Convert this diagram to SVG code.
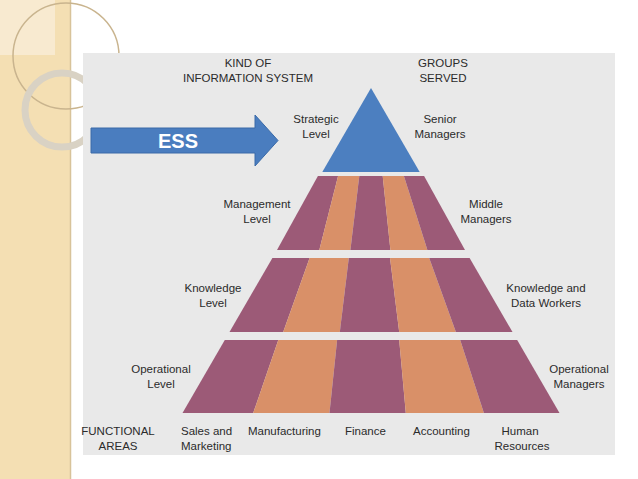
<svg xmlns="http://www.w3.org/2000/svg" width="638" height="479" viewBox="0 0 638 479">
<style>
text{font-family:"Liberation Sans",Arial,sans-serif;font-size:11.5px;fill:#2b2b2b;text-anchor:middle}
.p{fill:#9c5a77}.o{fill:#d99068}
.l{text-anchor:start}
</style>
<rect width="638" height="479" fill="#fff"/>
<g id="decor">
<rect width="70" height="479" fill="#f4dfb3"/>
<rect width="55" height="55" fill="#f8ead0"/>
<line x1="70.5" y1="0" x2="70.5" y2="479" stroke="#d8c39a" stroke-width="1.5"/>
<circle cx="66" cy="56" r="53" fill="none" stroke="#c9b48e" stroke-width="1.5"/>
<circle cx="62" cy="110" r="37" fill="none" stroke="#d9d2c4" stroke-width="7"/>
</g>
<rect x="83" y="53" width="532" height="402" fill="#e9e9e9"/>
<g id="ess">
<polygon points="91,128 255,128 255,115 278,140.5 255,166 255,153 91,153" fill="#4a7dbf" stroke="#3a6aa8"/>
<text x="178" y="148" style="font-size:20px;font-weight:bold;fill:#fff">ESS</text>
</g>
<g id="pyramid">
<polygon id="strategic" points="371,88 419.7,172 322.3,172" fill="#4c7fc0"/>
<g id="management">
<polygon class="p" points="317.9,176 338.1,176 319.3,250 277,250"/>
<polygon class="o" points="338.1,176 359.3,176 350.4,250 319.3,250"/>
<polygon class="p" points="359.3,176 382.7,176 390.4,250 350.4,250"/>
<polygon class="o" points="382.7,176 403.9,176 427.4,250 390.4,250"/>
<polygon class="p" points="403.9,176 424.1,176 465,250 427.4,250"/>
</g>
<g id="knowledge">
<polygon class="p" points="272.4,258 309.6,258 283.2,332 229.5,332"/>
<polygon class="o" points="309.6,258 348.8,258 339.8,332 283.2,332"/>
<polygon class="p" points="348.8,258 390.0,258 399.2,332 339.8,332"/>
<polygon class="o" points="390.0,258 429.2,258 455.9,332 399.2,332"/>
<polygon class="p" points="429.2,258 469.6,258 512.5,332 455.9,332"/>
</g>
<g id="operational">
<polygon class="p" points="224.8,340 278.3,340 253.2,413 182.5,413"/>
<polygon class="o" points="278.3,340 337.1,340 329.5,413 253.2,413"/>
<polygon class="p" points="337.1,340 399.2,340 405.8,413 329.5,413"/>
<polygon class="o" points="399.2,340 460.2,340 483.9,413 405.8,413"/>
<polygon class="p" points="460.2,340 517.2,340 559.5,413 483.9,413"/>
</g>
</g>
<g id="labels">
<text x="248" y="67">KIND OF</text><text x="248" y="82">INFORMATION SYSTEM</text>
<text x="443" y="67">GROUPS</text><text x="443" y="82">SERVED</text>
<text x="316" y="123">Strategic</text><text x="316" y="138">Level</text>
<text x="440" y="123">Senior</text><text x="440" y="138">Managers</text>
<text x="257" y="208">Management</text><text x="257" y="223">Level</text>
<text x="486" y="208">Middle</text><text x="486" y="223">Managers</text>
<text x="213" y="292">Knowledge</text><text x="213" y="307">Level</text>
<text x="546" y="292">Knowledge and</text><text x="546" y="307">Data Workers</text>
<text x="161" y="373">Operational</text><text x="161" y="388">Level</text>
<text x="579" y="373">Operational</text><text x="579" y="388">Managers</text>
<text x="118" y="435">FUNCTIONAL</text><text x="118" y="450">AREAS</text>
<text class="l" x="181" y="435">Sales and</text><text class="l" x="181" y="450">Marketing</text>
<text class="l" x="248" y="435">Manufacturing</text>
<text class="l" x="345" y="435">Finance</text>
<text class="l" x="413" y="435">Accounting</text>
<text x="520" y="435">Human</text><text x="522" y="450">Resources</text>
</g>
</svg>
